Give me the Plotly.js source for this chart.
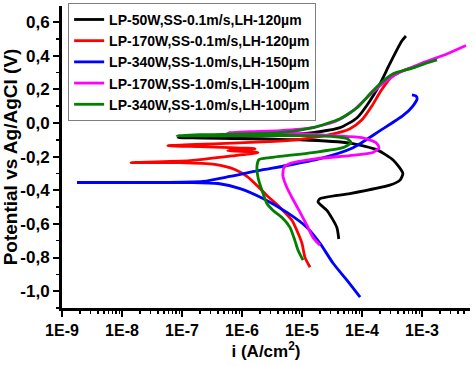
<!DOCTYPE html>
<html>
<head>
<meta charset="utf-8">
<script src="https://cdn.plot.ly/plotly-3.0.1.min.js"></script>
<style>html,body{margin:0;padding:0;background:#fff}#chart{width:474px;height:366px}</style>
</head>
<body>
<div id="chart"></div>
<script>
// Current density i (A/cm^2) and potential E (V vs Ag/AgCl), in scan order
const blackI = [4.1e-5,3.8e-5,2.6e-5,1.85e-5,2.0e-5,6.3e-5,2.9e-4,4.3e-4,4.8e-4,3.3e-4,1.78e-4,6.3e-5,9.3e-6,9.3e-7,8.6e-8,2.0e-7,4.3e-6,1.5e-5,4.3e-5,8.3e-5,1.36e-4,2.0e-4,2.9e-4,4.6e-4,5.4e-4];
const blackE = [-0.69,-0.62,-0.52,-0.47,-0.45,-0.42,-0.37,-0.34,-0.30,-0.22,-0.16,-0.12,-0.10,-0.093,-0.087,-0.081,-0.076,-0.058,-0.028,0.031,0.132,0.233,0.351,0.487,0.517];

const redI = [1.36e-5,1.12e-5,1.0e-5,8.6e-6,6.8e-6,4.3e-6,2.6e-6,1.78e-6,1.21e-6,7.6e-7,3.5e-7,9.3e-8,1.41e-8,1.36e-7,7.6e-7,1.85e-6,5.8e-7,1.65e-6,6.3e-7,2.0e-7,5.8e-8,4.3e-7,2.9e-6,8.6e-6,2.9e-5,6.3e-5,1.0e-4,1.47e-4,2.07e-4,3.0e-4,4.8e-4,7.6e-4];
const redE = [-0.858,-0.799,-0.716,-0.656,-0.579,-0.502,-0.431,-0.372,-0.318,-0.277,-0.247,-0.236,-0.236,-0.224,-0.194,-0.176,-0.164,-0.153,-0.147,-0.141,-0.135,-0.123,-0.111,-0.099,-0.070,-0.034,0.019,0.102,0.191,0.268,0.310,0.333];

const blueI = [9.3e-5,5.6e-5,3.3e-5,2.0e-5,1.21e-5,5.6e-6,2.24e-6,9.3e-7,4.0e-7,1.36e-7,1.78e-9,2.9e-8,2.24e-7,6.3e-7,1.85e-6,5.6e-6,2.0e-5,7.1e-5,2.0e-4,4.8e-4,7.1e-4,8.3e-4,7.9e-4,6.8e-4];
const blueE = [-1.036,-0.935,-0.834,-0.716,-0.621,-0.532,-0.449,-0.390,-0.360,-0.354,-0.354,-0.354,-0.348,-0.318,-0.283,-0.253,-0.212,-0.147,-0.046,0.043,0.102,0.144,0.161,0.167];

const magI = [2.0e-5,1.52e-5,1.21e-5,9.3e-6,6.8e-6,5.6e-6,4.8e-6,5.0e-6,6.3e-6,1.78e-5,6.3e-5,1.52e-4,1.92e-4,1.71e-4,1.0e-4,3.3e-5,9.3e-6,2.0e-6,5.8e-7,1.36e-6,4.3e-6,1.52e-5,3.8e-5,7.1e-5,1.21e-4,2.0e-4,3.8e-4,9.3e-4,2.6e-3,5.4e-3];
const magE = [-0.727,-0.680,-0.609,-0.532,-0.443,-0.384,-0.313,-0.265,-0.241,-0.212,-0.194,-0.176,-0.147,-0.117,-0.087,-0.076,-0.064,-0.058,-0.058,-0.052,-0.046,-0.028,0.013,0.073,0.150,0.221,0.292,0.351,0.410,0.460];

const greenI = [1.04e-5,8.6e-6,7.6e-6,6.3e-6,4.6e-6,3.3e-6,2.6e-6,2.15e-6,1.85e-6,1.78e-6,1.92e-6,2.9e-6,1.52e-5,4.8e-5,6.6e-5,5.6e-5,3.3e-5,9.3e-6,9.3e-7,8.3e-8,2.0e-7,4.3e-6,1.52e-5,4.3e-5,8.3e-5,1.36e-4,2.0e-4,3.3e-4,7.1e-4,1.21e-3,1.78e-3];
const greenE = [-0.816,-0.757,-0.698,-0.621,-0.561,-0.520,-0.479,-0.401,-0.324,-0.253,-0.218,-0.206,-0.176,-0.147,-0.117,-0.093,-0.081,-0.076,-0.076,-0.076,-0.070,-0.058,-0.028,0.025,0.090,0.173,0.233,0.292,0.327,0.357,0.375];

const seriesNames = ['LP-50W,SS-0.1m/s,LH-120µm','LP-170W,SS-0.1m/s,LH-120µm','LP-340W,SS-1.0m/s,LH-150µm','LP-170W,SS-1.0m/s,LH-100µm','LP-340W,SS-1.0m/s,LH-100µm'];
const seriesColors = ['#000000','#ff0000','#0000ff','#ff00ff','#007f00'];

const xTickVals = [1e-9,1e-8,1e-7,1e-6,1e-5,1e-4,1e-3];
const xTickText = ['1E-9','1E-8','1E-7','1E-6','1E-5','1E-4','1E-3'];
const yTickVals = [-1.0,-0.8,-0.6,-0.4,-0.2,0.0,0.2,0.4,0.6];
const yTickText = ['-1,0','-0,8','-0,6','-0,4','-0,2','0,0','0,2','0,4','0,6'];

const xs = [blackI, redI, blueI, magI, greenI];
const ys = [blackE, redE, blueE, magE, greenE];

const font = {family:'Liberation Sans, Arial, sans-serif', color:'#000', weight:'bold'};

const traces = xs.map((x,k)=>({
  x: x, y: ys[k], type:'scatter', mode:'lines', name: seriesNames[k],
  line:{color: seriesColors[k], width:2.8, shape:'spline', smoothing:0.6}
}));

const minorX = [];
for (let d = -9; d <= -3; d++) { for (let m = 2; m <= 9; m++) { const t = m * Math.pow(10, d); if (t < 6e-3) minorX.push(t); } }

const layout = {
  width:474, height:366,
  margin:{l:62, r:4, t:5, b:58},
  paper_bgcolor:'#fff', plot_bgcolor:'#fff',
  showlegend:true,
  legend:{x:0.015, y:1.007, xanchor:'left', yanchor:'top', bordercolor:'#7f7f7f', borderwidth:1,
    bgcolor:'#fff', font:Object.assign({}, font, {size:14}), tracegroupgap:0},
  xaxis:{type:'log', range:[-9, -2.2], tickmode:'array', tickvals:xTickVals, ticktext:xTickText,
    showgrid:false, zeroline:false, showline:true, linecolor:'#000', linewidth:3,
    ticks:'outside', ticklen:6, tickwidth:2, tickcolor:'#000',
    minor:{tickmode:'array', tickvals:minorX, ticks:'outside', ticklen:3, tickwidth:1.5, tickcolor:'#000', showgrid:false},
    tickfont:Object.assign({}, font, {size:16}),
    title:{text:'i (A/cm<sup>2</sup>)', font:Object.assign({}, font, {size:17}), standoff:6}
  },
  yaxis:{range:[-1.1, 0.695], tickmode:'array', tickvals:yTickVals, ticktext:yTickText,
    showgrid:false, zeroline:false, showline:true, linecolor:'#000', linewidth:3,
    ticks:'outside', ticklen:6, tickwidth:2, tickcolor:'#000',
    minor:{tickmode:'linear', tick0:-1.1, dtick:0.1, ticks:'outside', ticklen:3, tickwidth:1.5, tickcolor:'#000', showgrid:false},
    tickfont:Object.assign({}, font, {size:17}),
    title:{text:'Potential vs Ag/AgCl (V)', font:Object.assign({}, font, {size:19}), standoff:3}
  }
};

Plotly.newPlot('chart', traces, layout, {displayModeBar:false, staticPlot:true});
</script>
</body>
</html>
